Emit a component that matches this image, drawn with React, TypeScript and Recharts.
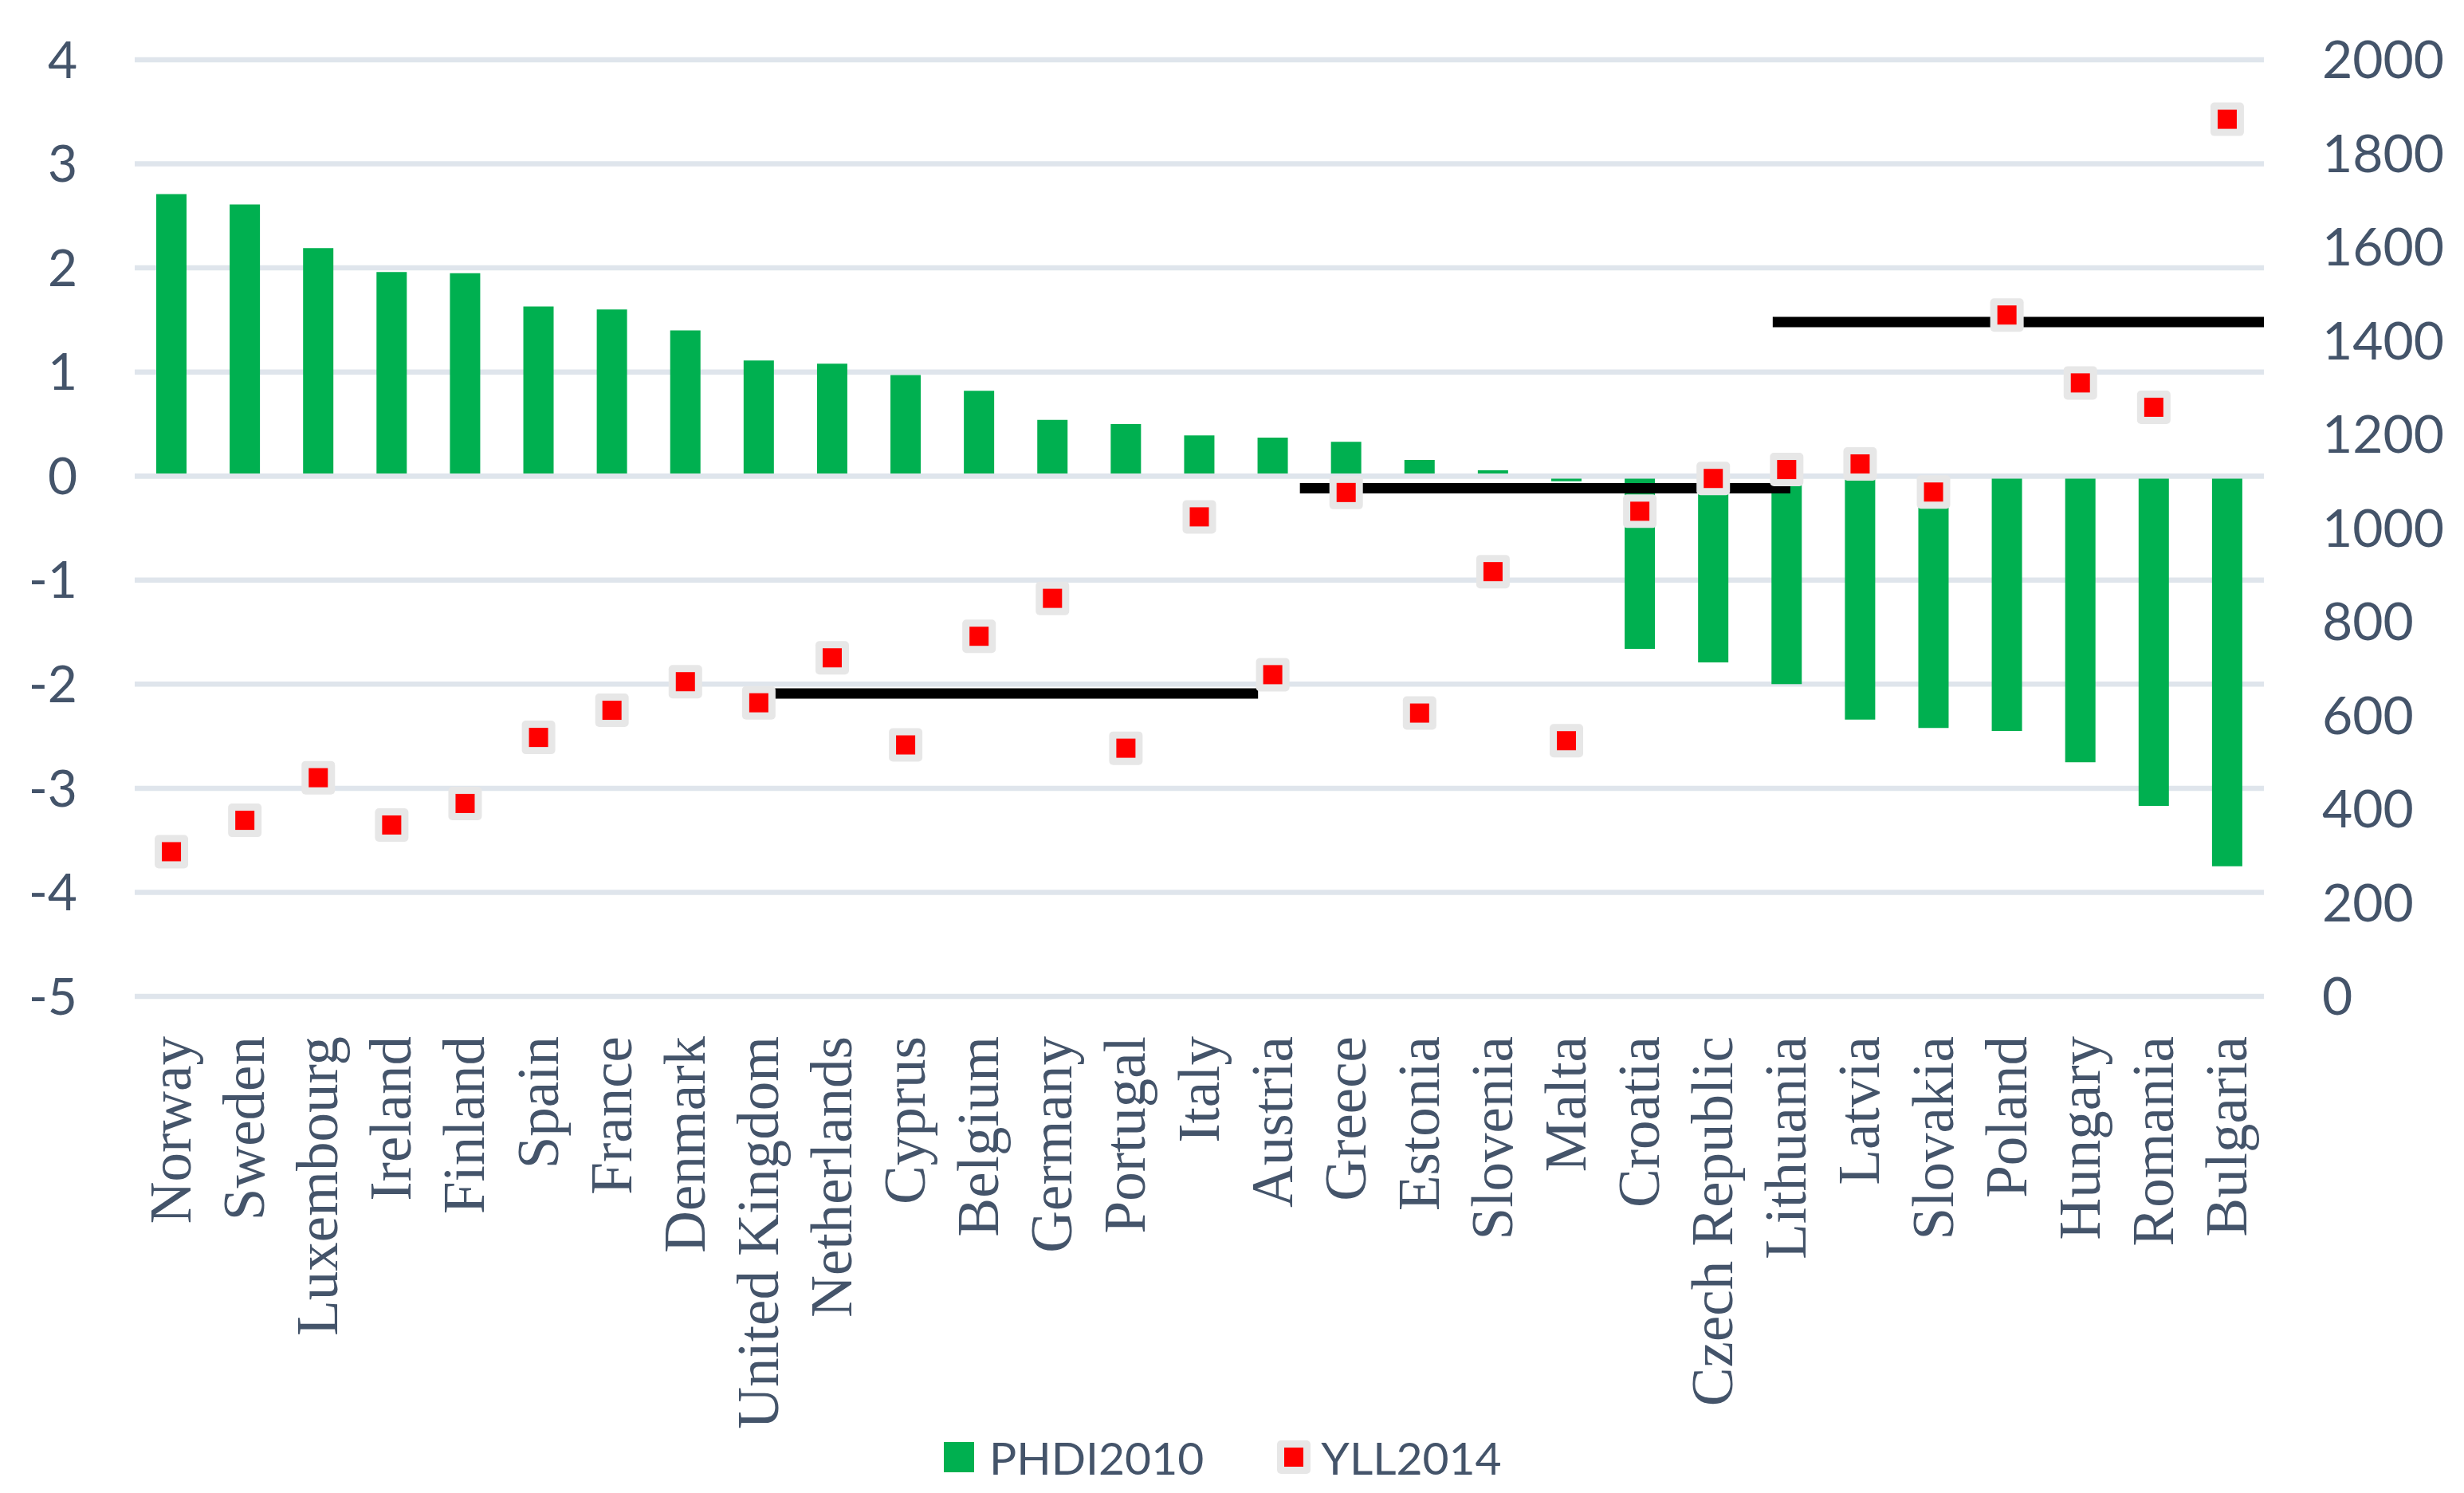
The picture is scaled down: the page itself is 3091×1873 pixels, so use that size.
import {
  Bar,
  CartesianGrid,
  ComposedChart,
  Legend,
  ReferenceLine,
  Scatter,
  XAxis,
  YAxis,
} from "recharts";

const countries = [
  "Norway", "Sweden", "Luxembourg", "Ireland", "Finland", "Spain", "France", "Denmark",
  "United Kingdom", "Netherlands", "Cyprus", "Belgium", "Germany", "Portugal", "Italy",
  "Austria", "Greece", "Estonia", "Slovenia", "Malta", "Croatia", "Czech Republic",
  "Lithuania", "Latvia", "Slovakia", "Poland", "Hungary", "Romania", "Bulgaria",
];

const phdi2010 = [
  2.71, 2.61, 2.19, 1.96, 1.95, 1.63, 1.6, 1.4, 1.11, 1.08, 0.97, 0.82, 0.54, 0.5, 0.39,
  0.37, 0.33, 0.155, 0.056, -0.05, -1.66, -1.79, -2.0, -2.34, -2.42, -2.45, -2.75, -3.17, -3.75,
];

const yll2014 = [
  309, 376, 467, 366, 412, 553, 611, 672, 627, 723, 537, 769, 850, 530, 1024,
  687, 1076, 605, 907, 546, 1036, 1106, 1125, 1137, 1077, 1455, 1310, 1258, 1873,
];

// group averages of YLL2014, start/end given in category units
const groupMeans = [
  { from: 8.64, to: 15.3, value: 647 },
  { from: 15.87, to: 22.55, value: 1085 },
  { from: 22.31, to: 29, value: 1440 },
];

const leftTicks = [-5, -4, -3, -2, -1, 0, 1, 2, 3, 4];
const rightTicks = [0, 200, 400, 600, 800, 1000, 1200, 1400, 1600, 1800, 2000];

const TEXT = "#44546a";
const GREEN = "#00b050";
const RED = "#ff0000";
const HALO = "#e7e7e7";
const GRID = "#dfe5ec";

const data = countries.map((country, i) => ({
  country,
  slot: i + 0.5,
  phdi: phdi2010[i],
  yll: yll2014[i],
}));

function CountryTick({ x, y, payload }: any) {
  return (
    <text
      transform={`translate(${x + 24},${y}) rotate(-90)`}
      textAnchor="end"
      fill={TEXT}
      fontFamily="'Liberation Serif', serif"
      fontSize={73}
    >
      {payload.value}
    </text>
  );
}

function YllMarker({ cx, cy }: any) {
  if (cx == null || cy == null) return null;
  return (
    <g>
      <rect x={cx - 21} y={cy - 21} width={42} height={42} rx={5} fill={HALO} />
      <rect x={cx - 12} y={cy - 12} width={24} height={24} fill={RED} />
    </g>
  );
}

function ChartLegend() {
  return (
    <div
      style={{
        display: "flex",
        alignItems: "center",
        fontFamily: "Lato, sans-serif",
        fontSize: 57,
        color: TEXT,
        lineHeight: "72px",
        whiteSpace: "nowrap",
      }}
    >
      <span style={{ width: 38, height: 38, background: GREEN, marginRight: 19 }} />
      <span>PHDI2010</span>
      <span
        style={{
          width: 42,
          height: 42,
          background: HALO,
          borderRadius: 5,
          marginLeft: 92,
          marginRight: 13,
          display: "flex",
          alignItems: "center",
          justifyContent: "center",
        }}
      >
        <span style={{ width: 24, height: 24, background: RED }} />
      </span>
      <span>YLL2014</span>
    </div>
  );
}

export default function App() {
  const leftTickStyle = { fill: TEXT, fontFamily: "Lato, sans-serif", fontSize: 64 };
  const rightTickStyle = { fill: TEXT, fontFamily: "Lato, sans-serif", fontSize: 66 };
  return (
    <div style={{ position: "absolute", left: 0, top: 0, background: "#fff" }}>
      <ComposedChart
        width={3091}
        height={1873}
        data={data}
        margin={{ top: 75, right: 0, bottom: 63, left: 0 }}
      >
        <CartesianGrid yAxisId="left" vertical={false} stroke={GRID} strokeWidth={6.5} />
        <XAxis
          dataKey="country"
          interval={0}
          height={560}
          tickLine={false}
          axisLine={false}
          tickSize={0}
          tickMargin={50}
          tick={<CountryTick />}
        />
        <XAxis
          xAxisId="pos"
          dataKey="slot"
          type="number"
          domain={[0, countries.length]}
          allowDataOverflow
          hide
        />
        <YAxis
          yAxisId="left"
          width={169}
          domain={[-5, 4]}
          ticks={leftTicks}
          interval={0}
          tickLine={false}
          axisLine={false}
          tickSize={0}
          tickMargin={72}
          tick={leftTickStyle}
        />
        <YAxis
          yAxisId="right"
          orientation="right"
          width={251}
          domain={[0, 2000]}
          ticks={rightTicks}
          interval={0}
          tickLine={false}
          axisLine={false}
          tickSize={0}
          tickMargin={73}
          tick={rightTickStyle}
        />
        <Bar yAxisId="left" dataKey="phdi" name="PHDI2010" fill={GREEN} barSize={38} isAnimationActive={false} />
        <ReferenceLine yAxisId="left" y={0} stroke={GRID} strokeWidth={6.5} />
        <Scatter
          yAxisId="right"
          dataKey="yll"
          name="YLL2014"
          shape={<YllMarker />}
          isAnimationActive={false}
        />
        {groupMeans.map((g) => (
          <ReferenceLine
            key={g.from}
            xAxisId="pos"
            yAxisId="right"
            segment={[
              { x: g.from, y: g.value },
              { x: g.to, y: g.value },
            ]}
            stroke="#000"
            strokeWidth={13}
            ifOverflow="visible"
          />
        ))}
        <Legend
          layout="horizontal"
          verticalAlign="middle"
          align="center"
          content={<ChartLegend />}
          wrapperStyle={{ left: 1184, top: 1792, width: "auto" }}
        />
      </ComposedChart>
    </div>
  );
}
